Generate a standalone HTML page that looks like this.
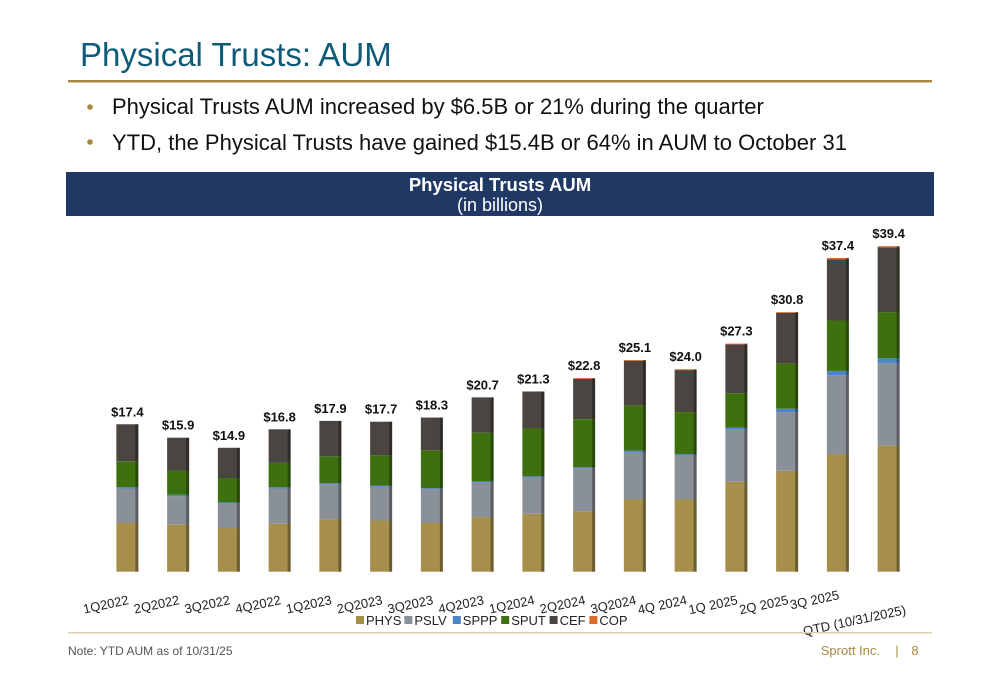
<!DOCTYPE html>
<html><head><meta charset="utf-8"><style>
body{margin:0;background:#fff;font-family:"Liberation Sans",Arial,sans-serif;}
#wrap{position:relative;width:1000px;height:685px;overflow:hidden;background:#fff}
</style></head><body>
<div id="wrap">
<svg id="svg" width="1000" height="685" xmlns="http://www.w3.org/2000/svg" style="position:absolute;left:0;top:0">
<text x="80" y="66" font-size="33" fill="#0f5a78" font-family="Liberation Sans">Physical Trusts: AUM</text>
<rect x="68" y="80" width="864" height="2.5" fill="#a8893f"/>
<circle cx="90" cy="107" r="2.8" fill="#a8893f"/>
<text x="112" y="114" font-size="22" fill="#111">Physical Trusts AUM increased by $6.5B or 21% during the quarter</text>
<circle cx="90" cy="142" r="2.8" fill="#a8893f"/>
<text x="112" y="150" font-size="22" fill="#111">YTD, the Physical Trusts have gained $15.4B or 64% in AUM to October 31</text>
<rect x="66" y="172" width="868" height="44" fill="#203864"/>
<text x="500" y="191" font-size="18.5" font-weight="bold" fill="#fff" text-anchor="middle">Physical Trusts AUM</text>
<text x="500" y="211" font-size="18" fill="#fff" text-anchor="middle">(in billions)</text>
<g id="chart"></g>
<rect x="68" y="632" width="864" height="1.5" fill="#d9ceb0"/>
<text x="68" y="655" font-size="12" fill="#555">Note: YTD AUM as of 10/31/25</text>
<text x="880" y="655" font-size="13" fill="#a8893f" text-anchor="end">Sprott Inc.</text>
<text x="897" y="655" font-size="13" fill="#a8893f" text-anchor="middle">|</text>
<text x="915" y="655" font-size="13" fill="#a8893f" text-anchor="middle">8</text>
</svg>
</div>
<script>
const categories=["1Q2022","2Q2022","3Q2022","4Q2022","1Q2023","2Q2023","3Q2023","4Q2023","1Q2024","2Q2024","3Q2024","4Q 2024","1Q 2025","2Q 2025","3Q 2025","QTD (10/31/2025)"];
const totalLabels=["$17.4","$15.9","$14.9","$16.8","$17.9","$17.7","$18.3","$20.7","$21.3","$22.8","$25.1","$24.0","$27.3","$30.8","$37.4","$39.4"];
const phys=[5.8,5.6,5.2,5.7,6.2,6.1,5.8,6.5,6.9,7.2,8.6,8.6,10.7,12.0,14.0,15.0];
const pslv=[4.1,3.4,2.9,4.2,4.2,4.0,4.0,4.1,4.3,5.1,5.6,5.2,6.2,7.0,9.4,9.8];
const sppp=[0.15,0.15,0.15,0.15,0.15,0.15,0.15,0.15,0.15,0.15,0.2,0.2,0.25,0.4,0.5,0.6];
const sput=[3.1,2.9,2.9,2.9,3.2,3.6,4.5,5.8,5.7,5.7,5.4,5.0,4.1,5.4,6.0,5.5];
const cef=[4.4,3.9,3.6,4.0,4.2,4.0,3.9,4.2,4.4,4.8,5.3,5.0,5.8,6.0,7.3,7.7];
const cop=[0,0,0,0,0,0,0,0,0,0.1,0.1,0.1,0.1,0.1,0.15,0.15];
const seriesNames=["PHYS","PSLV","SPPP","SPUT","CEF","COP"];
const NS="http://www.w3.org/2000/svg";
const g=document.getElementById('chart');
const base=571.7, k=331/39.4, x0=102, bw=50.75, barW=22;
const y=v=>base-v*k;
const xc=i=>x0+bw*(i+0.5);
const colors=["#a58f4b","#8a9097","#4a86c8","#3f7010","#4a4540","#e06a2a"];
const series=[phys,pslv,sppp,sput,cef,cop];
function el(tag,attrs){const e=document.createElementNS(NS,tag);for(const a in attrs)e.setAttribute(a,attrs[a]);return e;}
categories.forEach((c,i)=>{
  let cum=0;
  series.forEach((s,j)=>{
    const v=s[i]; if(v<=0) return;
    const r=el('rect',{x:xc(i)-barW/2,y:y(cum+v),width:barW,height:v*k,fill:colors[j]});
    
    
    g.appendChild(r);
    cum+=v;
  });
  const sd=el('rect',{x:xc(i)+barW/2-3,y:y(cum),width:3,height:cum*k,fill:"#000",opacity:"0.35"});
  
  
  g.appendChild(sd);
  const t=el('text',{x:xc(i),y:y(cum)-8,'font-size':13,'font-weight':'bold','text-anchor':'middle',fill:'#111'});
  t.textContent=totalLabels[i];
  
  
  g.appendChild(t);
  let lx=xc(i)+2, ly=604;
  if(i===14){ly=599;}
  if(i===15){lx=xc(i)+18;ly=614;}
  const tl=el('text',{x:lx,y:ly,'font-size':13,'text-anchor':'end',fill:'#222',transform:'rotate(-12 '+lx+' '+ly+')'});
  tl.textContent=c;
  
  
  g.appendChild(tl);
});
let lx=356;
seriesNames.forEach((n,j)=>{
  const r=el('rect',{x:lx,y:616,width:8,height:8,fill:colors[j]});
  
  
  g.appendChild(r);
  const t=el('text',{x:lx+10,y:625,'font-size':13,fill:'#222'});
  t.textContent=n;
  
  
  g.appendChild(t);
  lx+=10+n.length*8.6+4;
});
</script>
</body></html>
